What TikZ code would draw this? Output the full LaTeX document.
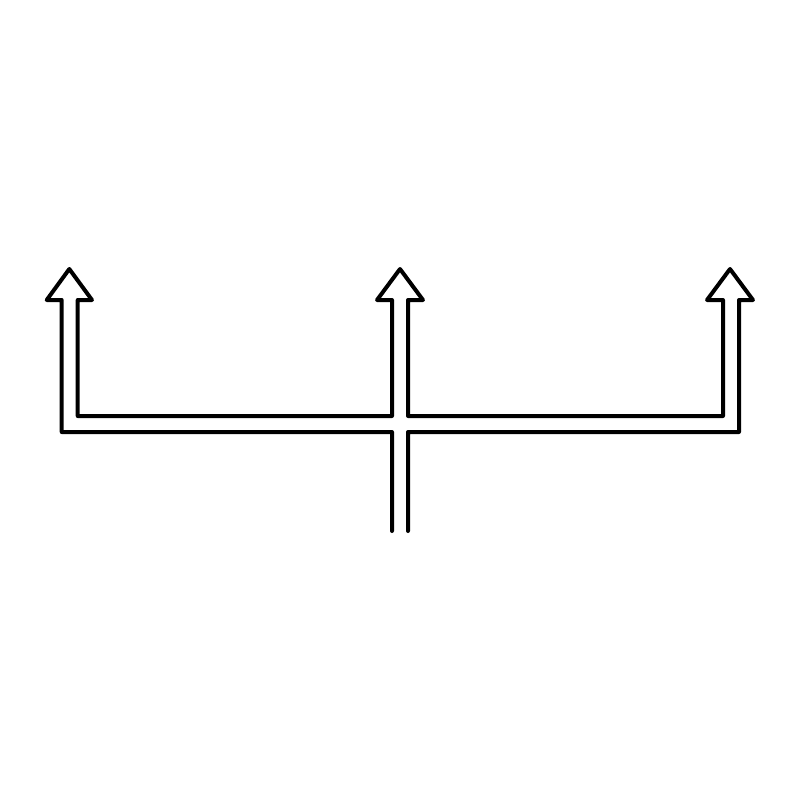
\documentclass[tikz,border=0pt]{standalone}
\begin{document}
\begin{tikzpicture}[x=1pt,y=-1pt,
  outline/.style={draw=black,line width=4pt,line join=round,line cap=round}]
\useasboundingbox (0,0) rectangle (800,800);
\fill[white] (0,0) rectangle (800,800);
\draw[outline]
  (392,531) -- (392,432) -- (61.7,432) -- (61.7,300) -- (46.7,300) -- (69.3,269)
  -- (92,300) -- (77.7,300) -- (77.7,416) -- (392,416) -- (392,300) -- (377,300)
  -- (400,269) -- (423,300) -- (408,300) -- (408,416) -- (723,416) -- (723,300)
  -- (707,300) -- (730,269) -- (753,300) -- (739,300) -- (739,432) -- (408,432)
  -- (408,531);
\end{tikzpicture}
\end{document}
